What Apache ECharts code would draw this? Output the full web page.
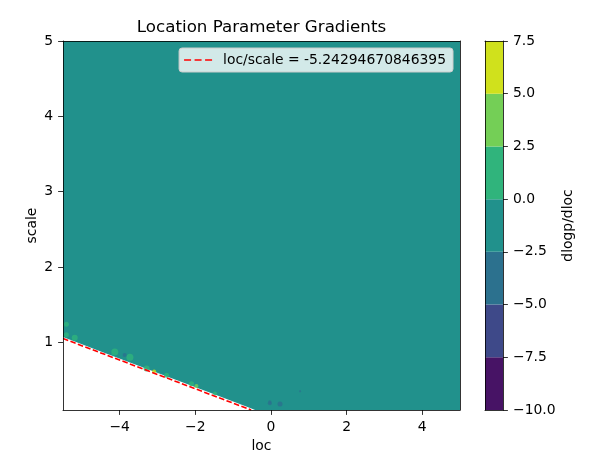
<!DOCTYPE html>
<html><head><meta charset="utf-8">
<script src="https://cdn.jsdelivr.net/npm/echarts@6/dist/echarts.min.js"></script>
<style>html,body{margin:0;padding:0;background:#fff}#c{width:594px;height:462px}</style>
</head><body><div id="c"></div>
<script>
// ---- data ----
const ratio = -5.24294670846395;
const xRange = [-5.5, 5];
const yRange = [0.1, 5];
const xTicks = [-4, -2, 0, 2, 4];
const yTicks = [1, 2, 3, 4, 5];
const levels = [-10, -7.5, -5, -2.5, 0, 2.5, 5, 7.5];
const levelColors = ['#471365', '#3e4989', '#2c718e', '#21918c', '#30b47c', '#74cf56', '#d0e11c'];
const fieldValue = -1.2;
// lower edge of the defined region
const edgeLoc   = [-5.5, -4.5, -3.5, -2.5, -1.5, -0.55, -0.42];
const edgeScale = [1.068, 0.878, 0.688, 0.5, 0.309, 0.127, 0.1];
// small contour islands near the edge
const blobLoc   = [-5.41, -5.41, -5.19, -4.13, -3.73, -3.87, -3.29, -3.09, -2.76, -2.10, -1.97, -1.48, -0.03, 0.24, 0.77, -0.03];
const blobScale = [1.24, 1.10, 1.06, 0.87, 0.80, 0.83, 0.65, 0.61, 0.56, 0.45, 0.42, 0.32, 0.19, 0.18, 0.35, 0.21];
const blobValue = [1.5, 1.2, 1.0, 1.0, 1.2, -3.5, 1.0, 6.0, 1.0, 1.0, 3.5, 1.0, -3.5, -3.5, -3.5, -3.5];
const blobSize  = [5, 5, 6, 7, 7, 4, 6, 4, 5, 5, 4, 4, 4, 5, 2, 3];

function colorFor(v) {
  for (let i = 0; i < levels.length - 1; i++) if (v >= levels[i] && v < levels[i + 1]) return levelColors[i];
  return levelColors[levelColors.length - 1];
}
const fmt = v => (v < 0 ? '\u2212' : '') + Math.abs(v);
const fmt1 = v => (v < 0 ? '\u2212' : '') + Math.abs(v).toFixed(1);
const legendName = 'loc/scale = ' + ratio;
const FS = 13.9;
const axisLineStyle = { color: '#000', width: 0.8 };

const chart = echarts.init(document.getElementById('c'), null, { renderer: 'canvas' });
const option = {
  animation: false,
  textStyle: { fontFamily: 'DejaVu Sans' },
  title: {
    text: 'Location Parameter Gradients', left: 256.5, top: 14, textAlign: 'center',
    textStyle: { fontSize: 16.7, fontWeight: 'normal', color: '#000', fontFamily: 'DejaVu Sans' }
  },
  legend: {
    data: [{ name: legendName, icon: 'path://M0,0h7v1.6h-7zM10.5,0h7v1.6h-7zM21,0h7v1.6h-7z' }],
    right: 141, top: 48, itemWidth: 28, itemHeight: 1.6,
    itemStyle: { color: '#ff0000' },
    backgroundColor: 'rgba(255,255,255,0.8)', borderColor: '#cccccc', borderWidth: 1, borderRadius: 3,
    padding: [5, 7, 5, 5],
    textStyle: { fontSize: FS, color: '#000', fontFamily: 'DejaVu Sans', padding: [0, 0, 0, 6], lineHeight: 14 }
  },
  grid: [
    { left: 63, top: 41, right: 134, bottom: 52, containLabel: false },
    { left: 485, top: 41, width: 18, height: 369, containLabel: false }
  ],
  xAxis: [
    { gridIndex: 0, type: 'value', min: xRange[0], max: xRange[1], position: 'bottom', z: 5,
      axisLine: { show: true, onZero: false, lineStyle: axisLineStyle },
      axisTick: { show: true, length: 4.9, customValues: xTicks, lineStyle: axisLineStyle },
      axisLabel: { customValues: xTicks, formatter: fmt, margin: 10, fontSize: FS, color: '#000' },
      splitLine: { show: false },
      name: 'loc', nameLocation: 'middle', nameGap: 27, nameTextStyle: { fontSize: FS, color: '#000' } },
    { gridIndex: 0, type: 'value', min: xRange[0], max: xRange[1], position: 'top', z: 5,
      axisLine: { show: true, onZero: false, lineStyle: axisLineStyle },
      axisTick: { show: false }, axisLabel: { show: false }, splitLine: { show: false } },
    { gridIndex: 1, type: 'value', min: 0, max: 1, position: 'bottom', z: 5,
      axisLine: { show: true, onZero: false, lineStyle: axisLineStyle },
      axisTick: { show: false }, axisLabel: { show: false }, splitLine: { show: false } },
    { gridIndex: 1, type: 'value', min: 0, max: 1, position: 'top', z: 5,
      axisLine: { show: true, onZero: false, lineStyle: axisLineStyle },
      axisTick: { show: false }, axisLabel: { show: false }, splitLine: { show: false } }
  ],
  yAxis: [
    { gridIndex: 0, type: 'value', min: yRange[0], max: yRange[1], position: 'left', z: 5,
      axisLine: { show: true, onZero: false, lineStyle: axisLineStyle },
      axisTick: { show: true, length: 4.9, customValues: yTicks, lineStyle: axisLineStyle },
      axisLabel: { customValues: yTicks, formatter: fmt, margin: 10, fontSize: FS, color: '#000' },
      splitLine: { show: false },
      name: 'scale', nameLocation: 'middle', nameGap: 24, nameMoveOverlap: false, nameRotate: 90,
      nameTextStyle: { fontSize: FS, color: '#000' } },
    { gridIndex: 0, type: 'value', min: yRange[0], max: yRange[1], position: 'right', z: 5,
      axisLine: { show: true, onZero: false, lineStyle: axisLineStyle },
      axisTick: { show: false }, axisLabel: { show: false }, splitLine: { show: false } },
    { gridIndex: 1, type: 'value', min: levels[0], max: levels[levels.length - 1], position: 'left', z: 5,
      axisLine: { show: true, onZero: false, lineStyle: axisLineStyle },
      axisTick: { show: false }, axisLabel: { show: false }, splitLine: { show: false } },
    { gridIndex: 1, type: 'value', min: levels[0], max: levels[levels.length - 1], interval: 2.5, position: 'right', z: 5,
      axisLine: { show: true, onZero: false, lineStyle: axisLineStyle },
      axisTick: { show: true, length: 4.9, lineStyle: axisLineStyle },
      axisLabel: { formatter: fmt1, margin: 10, fontSize: FS, color: '#000' },
      splitLine: { show: false },
      name: 'dlogp/dloc', nameLocation: 'middle', nameGap: 58, nameRotate: 90, nameTextStyle: { fontSize: FS, color: '#000' } }
  ],
  series: [
    { type: 'custom', xAxisIndex: 0, yAxisIndex: 0, silent: true, z: 1,
      data: [[fieldValue]],
      renderItem: (params, api) => {
        const pts = [];
        pts.push(api.coord([xRange[0], yRange[1]]));
        for (let i = 0; i < edgeLoc.length; i++) pts.push(api.coord([edgeLoc[i], edgeScale[i]]));
        pts.push(api.coord([xRange[1], yRange[0]]));
        pts.push(api.coord([xRange[1], yRange[1]]));
        return { type: 'polygon', shape: { points: pts }, style: { fill: colorFor(api.value(0)) } };
      } },
    { type: 'scatter', xAxisIndex: 0, yAxisIndex: 0, silent: true, z: 2,
      data: blobLoc.map((x, i) => ({ value: [x, blobScale[i]], symbolSize: blobSize[i], itemStyle: { color: colorFor(blobValue[i]) } })),
      symbol: 'circle' },
    { type: 'line', name: legendName, xAxisIndex: 0, yAxisIndex: 0, z: 3, silent: true,
      symbol: 'none', showSymbol: false,
      data: [[xRange[0], xRange[0] / ratio], [yRange[0] * ratio, yRange[0]]],
      lineStyle: { color: '#ff0000', width: 1.6, type: [5.55, 2.4] },
      itemStyle: { color: '#ff0000' } },
    { type: 'custom', xAxisIndex: 2, yAxisIndex: 3, silent: true, z: 1,
      data: levelColors.map((c, i) => [levels[i], levels[i + 1], i]),
      renderItem: (params, api) => {
        const p0 = api.coord([0, api.value(1)]);
        const p1 = api.coord([1, api.value(0)]);
        return { type: 'rect', shape: { x: p0[0], y: p0[1], width: p1[0] - p0[0], height: p1[1] - p0[1] },
                 style: { fill: levelColors[api.value(2)] } };
      } }
  ]
};
chart.setOption(option);
</script></body></html>
